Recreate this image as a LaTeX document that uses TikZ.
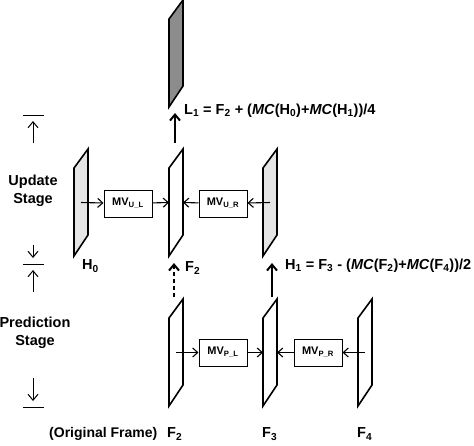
\documentclass[tikz,border=0pt]{standalone}
\usepackage{fontspec}
\setmainfont{Liberation Sans}
\usetikzlibrary{arrows.meta}
\definecolor{darkfrm}{gray}{0.55}
\definecolor{lightfrm}{gray}{0.9}
\tikzset{
  frm/.style={draw, line width=1.6pt, line join=miter},
  mvbox/.style={draw, line width=1pt, minimum width=48pt, minimum height=27pt, inner sep=0pt, font=\fontsize{11}{12}\selectfont\bfseries},
  lbl/.style={inner sep=0pt, anchor=west, font=\fontsize{14.5}{17}\selectfont\bfseries},
  stagelbl/.style={inner sep=0pt, align=center, font=\fontsize{14.5}{18}\selectfont\bfseries},
  link/.style={-{Straight Barb[length=5pt,width=9pt]}, line width=1.1pt},
  uparrow/.style={-{Straight Barb[length=6pt,width=10pt,line width=2pt]}, line width=2.2pt},
  stagebar/.style={line width=1pt},
  markarrow/.style={-{Straight Barb[length=6pt,width=10pt]}, line width=1pt},
}
% frame: name, left x, top y, fill
\newcommand{\vframe}[4]{%
  \draw[frm, fill=#4] (#2+14,#3) -- (#2+14,#3+86) -- (#2,#3+107) -- (#2,#3+19) -- cycle;
  \coordinate (#1) at (#2+7,#3+53.5);
  \coordinate (#1-l) at (#2,#3+53.5);
  \coordinate (#1-r) at (#2+14,#3+53.5);
}
\begin{document}
\begin{tikzpicture}[x=1pt,y=-1pt]
\useasboundingbox (0,0) rectangle (474,445);
% frames
\vframe{L1}{169}{0}{darkfrm}
\vframe{H0}{74}{149}{lightfrm}
\vframe{F2u}{169}{149}{white}
\vframe{H1}{263}{149}{lightfrm}
\vframe{F2p}{169}{299}{white}
\vframe{F3}{263}{299}{white}
\vframe{F4}{358}{299}{white}
% motion vectors
\node[mvbox] (mvul) at (128,203.5) {MV\textsubscript{U\_L}};
\node[mvbox] (mvur) at (223,203.5) {MV\textsubscript{U\_R}};
\node[mvbox] (mvpl) at (223,352.5) {MV\textsubscript{P\_L}};
\node[mvbox] (mvpr) at (318,352.5) {MV\textsubscript{P\_R}};
\draw[link] (H0) -- (mvul);
\draw[link] (mvul) -- (F2u-l);
\draw[link] (H1) -- (mvur);
\draw[link] (mvur) -- (F2u-r);
\draw[link] (F2p) -- (mvpl);
\draw[link] (mvpl) -- (F3-l);
\draw[link] (F4) -- (mvpr);
\draw[link] (mvpr) -- (F3-r);
% vertical steps
\coordinate (l1a) at (175,143);
\coordinate (l1b) at (175,113);
\coordinate (f2a) at (174,297);
\coordinate (f2b) at (174,263);
\coordinate (h1a) at (272,297);
\coordinate (h1b) at (272,263);
\draw[uparrow] (l1a) -- (l1b);
\draw[uparrow, dash pattern=on 4pt off 3pt] (f2a) -- (f2b);
\draw[uparrow] (h1a) -- (h1b);
% labels
\node[lbl] (eqL) at (184,111) {L\textsubscript{1} = F\textsubscript{2} + (\textit{MC}(H\textsubscript{0})+\textit{MC}(H\textsubscript{1}))/4};
\node[lbl] (eqH) at (285,266) {H\textsubscript{1} = F\textsubscript{3} - (\textit{MC}(F\textsubscript{2})+\textit{MC}(F\textsubscript{4}))/2};
\node[lbl] (h0lbl) at (82,266) {H\textsubscript{0}};
\node[lbl] (f2lbl) at (185,268) {F\textsubscript{2}};
\node[stagelbl] (upd) at (33,191) {Update\\Stage};
\node[stagelbl] (pred) at (35,333) {Prediction\\Stage};
\node[lbl, font=\fontsize{14}{17}\selectfont\bfseries] (orig) at (49,434) {(Original Frame)};
\node[lbl] (f2o) at (167,434) {F\textsubscript{2}};
\node[lbl] (f3o) at (262,434) {F\textsubscript{3}};
\node[lbl] (f4o) at (357,434) {F\textsubscript{4}};
% stage markers
\draw[stagebar] (23,115) -- (44,115);
\draw[stagebar] (23,264) -- (44,264);
\draw[stagebar] (23,407) -- (44,407);
\coordinate (ma) at (33,143);
\coordinate (mb) at (33,121);
\coordinate (mc) at (33,245);
\coordinate (md) at (33,258);
\coordinate (me) at (33,292);
\coordinate (mf) at (33,270);
\coordinate (mg) at (33,378);
\coordinate (mh) at (33,401);
\draw[markarrow] (ma) -- (mb);
\draw[markarrow] (mc) -- (md);
\draw[markarrow] (me) -- (mf);
\draw[markarrow] (mg) -- (mh);
\end{tikzpicture}
\end{document}
